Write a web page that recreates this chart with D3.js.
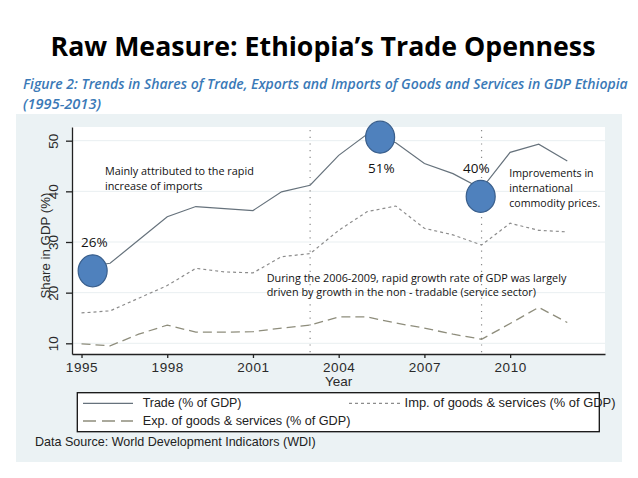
<!DOCTYPE html>
<html>
<head>
<meta charset="utf-8">
<script src="https://cdn.jsdelivr.net/npm/d3@7"></script>
<style>
  body { margin: 0; background: #fff; }
  svg { display: block; }
</style>
</head>
<body>
<svg id="chart" width="638" height="478"></svg>
<script>
// data (WDI, Ethiopia)
var years   = [1995,1996,1997,1998,1999,2000,2001,2002,2003,2004,2005,2006,2007,2008,2009,2010,2011,2012];
var trade   = [25.0,25.8,30.4,35.0,37.0,36.6,36.2,39.9,41.2,47.1,51.3,49.6,45.5,43.5,40.5,47.7,49.3,46.0];
var imports = [16.0,16.4,18.9,21.4,24.8,24.1,23.9,27.1,27.7,32.3,36.0,37.1,32.7,31.4,29.4,33.7,32.3,32.0];
var exports = [9.9,9.5,11.8,13.6,12.2,12.2,12.3,13.0,13.6,15.2,15.2,14.0,13.0,11.8,10.8,13.9,17.1,14.1];

var xTicks = [1995,1998,2001,2004,2007,2010];
var yTicks = [10,20,30,40,50];
var refYears = [2003,2009];

// highlighted points and their labels
var bubbles = [{year:1995.39, value:24.3}, {year:2005.45, value:50.7}, {year:2008.97, value:39.0}];
var bubbleLabels = [{year:1994.98, value:29.1, text:"26%"}, {year:2005.03, value:43.7, text:"51%"}, {year:2008.35, value:43.7, text:"40%"}];

var notes = [
  {year:1995.82, value:43.2, lines:["Mainly attributed to the rapid","increase of imports"], width:149},
  {year:2009.97, value:42.9, lines:["Improvements in","international","commodity prices."], width:91},
  {year:2001.48, value:22.16, lines:["During the 2006-2009, rapid growth rate of GDP was largely","driven by growth in the non - tradable (service sector)"], width:300}
];

var svg = d3.select("#chart");

function fit(sel, w) {
  var cur = sel.node().getComputedTextLength();
  var fs = parseFloat(sel.attr("font-size"));
  sel.attr("font-size", fs * w / cur);
  return sel;
}

// heading
fit(svg.append("text")
  .attr("x", 323).attr("y", 56)
  .attr("text-anchor", "middle")
  .attr("font-family", "'Open Sans', sans-serif")
  .attr("font-weight", "bold")
  .attr("font-size", 30)
  .attr("fill", "#000")
  .text("Raw Measure: Ethiopia\u2019s Trade Openness"), 545);

fit(svg.append("text")
  .attr("x", 23).attr("y", 88.5)
  .attr("font-family", "'Open Sans', sans-serif")
  .attr("font-style", "italic").attr("font-weight", 600)
  .attr("font-size", 13)
  .attr("fill", "#3a79b7")
  .text("Figure 2: Trends in Shares of Trade, Exports and Imports of Goods and Services in GDP Ethiopia"), 605);

fit(svg.append("text")
  .attr("x", 23).attr("y", 108.5)
  .attr("font-family", "'Open Sans', sans-serif")
  .attr("font-style", "italic").attr("font-weight", 600)
  .attr("font-size", 13)
  .attr("fill", "#3a79b7")
  .text("(1995-2013)"), 78);

// graph background
svg.append("rect").attr("x", 16).attr("y", 114).attr("width", 606).attr("height", 348).attr("fill", "#ebf2f4");

var x = d3.scaleLinear().domain([1994.667, 2013.32]).range([72, 605]);
var y = d3.scaleLinear().domain([7.89, 52.7]).range([354, 127]);

svg.append("rect").attr("x", 72).attr("y", 127).attr("width", 533).attr("height", 227).attr("fill", "#fff");

var g = svg.append("g");

// grid
g.selectAll(".grid").data(yTicks).enter().append("line")
  .attr("class", "grid")
  .attr("x1", 72).attr("x2", 605)
  .attr("y1", function(d) { return y(d); }).attr("y2", function(d) { return y(d); })
  .attr("stroke", "#e9eff1").attr("stroke-width", 1);

// reference lines
g.selectAll(".ref").data(refYears).enter().append("line")
  .attr("class", "ref")
  .attr("x1", function(d) { return x(d); }).attr("x2", function(d) { return x(d); })
  .attr("y1", 130).attr("y2", 354)
  .attr("stroke", "#8a8a8a").attr("stroke-width", 1.2)
  .attr("stroke-dasharray", "1.2,5.5");

var line = d3.line().x(function(d) { return x(d[0]); }).y(function(d) { return y(d[1]); });
var series = [
  {name:"Trade (% of GDP)", values:trade, color:"#66727c", dash:null, w:1.2},
  {name:"Imp. of goods & services (% of GDP)", values:imports, color:"#8c8c8c", dash:"3,3", w:1.2},
  {name:"Exp. of goods & services (% of GDP)", values:exports, color:"#8e8d7c", dash:"9,5", w:1.3}
];

series.forEach(function(s) {
  g.append("path")
    .datum(d3.zip(years, s.values))
    .attr("fill", "none")
    .attr("stroke", s.color)
    .attr("stroke-width", s.w)
    .attr("stroke-dasharray", s.dash)
    .attr("d", line);
});

// axes
var ax = svg.append("g").attr("transform", "translate(0,354)")
  .call(d3.axisBottom(x).tickValues(xTicks).tickFormat(d3.format("d")).tickSize(4).tickSizeOuter(0).tickPadding(4));
var ay = svg.append("g").attr("transform", "translate(72,0)")
  .call(d3.axisLeft(y).tickValues(yTicks).tickSize(6).tickSizeOuter(0));

[ax, ay].forEach(function(a) {
  a.select(".domain").attr("stroke", "#222").attr("stroke-width", 1.3);
  a.selectAll(".tick line").attr("stroke", "#222").attr("stroke-width", 1.3);
  a.selectAll("text").attr("font-family", "'Liberation Sans', Arial, sans-serif").attr("font-size", 13.5).attr("fill", "#2a2a2a");
});
ax.selectAll("text").attr("dy", "0.71em").attr("letter-spacing", "0.6px");
ay.selectAll("text")
  .attr("transform", "rotate(-90)")
  .attr("x", 0).attr("y", -14).attr("dy", 0)
  .attr("text-anchor", "middle");

svg.append("text")
  .attr("x", x(2004)).attr("y", 385.5)
  .attr("text-anchor", "middle")
  .attr("font-family", "'Liberation Sans', Arial, sans-serif")
  .attr("font-size", 13.5).attr("fill", "#2a2a2a")
  .text("Year");

fit(svg.append("text")
  .attr("transform", "translate(50," + y(29.3) + ") rotate(-90)")
  .attr("text-anchor", "middle")
  .attr("font-family", "'Liberation Sans', Arial, sans-serif")
  .attr("font-size", 14).attr("fill", "#2a2a2a")
  .text("Share in GDP (%)"), 106);

// bubbles
g.selectAll(".bubble").data(bubbles).enter().append("ellipse")
  .attr("class", "bubble")
  .attr("cx", function(d) { return x(d.year); })
  .attr("cy", function(d) { return y(d.value); })
  .attr("rx", 14.5).attr("ry", 16)
  .attr("fill", "#4f81bd").attr("stroke", "#3a5f8c").attr("stroke-width", 1.2);

g.selectAll(".blabel").data(bubbleLabels).enter().append("text")
  .attr("class", "blabel")
  .attr("x", function(d) { return x(d.year); })
  .attr("y", function(d) { return y(d.value); })
  .attr("font-family", "'Open Sans', sans-serif")
  .attr("font-size", 13.5).attr("fill", "#111")
  .text(function(d) { return d.text; });

notes.forEach(function(n) {
  var t = g.append("text")
    .attr("font-family", "'Open Sans', sans-serif")
    .attr("font-size", 11).attr("fill", "#111");
  n.lines.forEach(function(l, i) {
    t.append("tspan").attr("x", x(n.year)).attr("y", y(n.value) + i * (n.lines.length > 2 ? 15.3 : 14.5)).text(l);
  });
  var widest = d3.max(t.selectAll("tspan").nodes(), function(s) { return s.getComputedTextLength(); });
  t.attr("font-size", 11 * n.width / widest);
});

// legend
svg.append("rect").attr("x", 77.3).attr("y", 392.7).attr("width", 522).attr("height", 39)
  .attr("fill", "#fff").attr("stroke", "#111").attr("stroke-width", 1.3);

var legendPos = [
  {x1:83, x2:133, tx:142.7, ly:403.3, ty:406.8, w:99},
  {x1:349, x2:401, tx:404.6, ly:403.3, ty:406.8, w:211},
  {x1:83, x2:133, tx:142.7, ly:421, ty:424.5, w:208}
];
series.forEach(function(s, i) {
  var p = legendPos[i];
  svg.append("line").attr("x1", p.x1).attr("x2", p.x2).attr("y1", p.ly).attr("y2", p.ly)
    .attr("stroke", s.color).attr("stroke-width", s.w)
    .attr("stroke-dasharray", s.dash === "9,5" ? "13,6" : s.dash);
  fit(svg.append("text").attr("x", p.tx).attr("y", p.ty)
    .attr("font-family", "'Liberation Sans', Arial, sans-serif")
    .attr("font-size", 10).attr("fill", "#222")
    .text(s.name), p.w);
});

fit(svg.append("text").attr("x", 35).attr("y", 445.5)
  .attr("font-family", "'Liberation Sans', Arial, sans-serif")
  .attr("font-size", 10.5).attr("fill", "#222")
  .text("Data Source: World Development Indicators (WDI)"), 281);
</script>
</body>
</html>
